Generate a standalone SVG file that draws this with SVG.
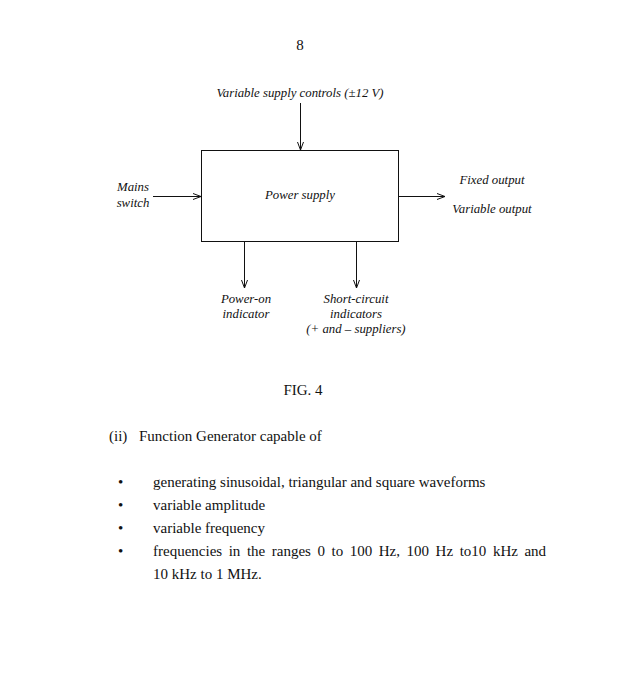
<svg xmlns="http://www.w3.org/2000/svg" width="619" height="689" viewBox="0 0 619 689">
<style>
.i{font-family:"Liberation Serif","Times New Roman",serif;font-style:italic;font-size:12.8px;fill:#111}
.r{font-family:"Liberation Serif","Times New Roman",serif;font-size:15px;fill:#111}
.ln{stroke:#111;stroke-width:1;fill:none}
</style>
<defs>
<marker id="a" markerWidth="10" markerHeight="10" refX="8" refY="4" orient="auto" markerUnits="userSpaceOnUse">
<path d="M0,1 L8,4 L0,7" fill="none" stroke="#111" stroke-width="1"/>
</marker>
</defs>
<rect width="619" height="689" fill="#fff"/>
<text class="r" x="300" y="50" text-anchor="middle" font-size="14">8</text>
<g id="power-supply">
<rect x="201.5" y="150.5" width="197" height="91" class="ln"/>
<text class="i" x="300" y="199" text-anchor="middle">Power supply</text>
</g>
<g id="variable-controls"><text class="i" x="300" y="97" text-anchor="middle">Variable supply controls (±12 V)</text></g>
<g id="mains-switch"><text class="i" x="133" y="191" text-anchor="middle">Mains</text><text class="i" x="133" y="207" text-anchor="middle">switch</text></g>
<g id="outputs"><text class="i" x="492" y="184" text-anchor="middle">Fixed output</text><text class="i" x="492" y="213" text-anchor="middle">Variable output</text></g>
<g id="power-on"><text class="i" x="246" y="303" text-anchor="middle">Power-on</text><text class="i" x="246" y="318" text-anchor="middle">indicator</text></g>
<g id="short-circuit"><text class="i" x="356" y="303" text-anchor="middle">Short-circuit</text><text class="i" x="356" y="318" text-anchor="middle">indicators</text><text class="i" x="356" y="333" text-anchor="middle">(+ and – suppliers)</text></g>
<g id="connectors">
<line x1="300.5" y1="103" x2="300.5" y2="150" class="ln" marker-end="url(#a)"/>
<line x1="153" y1="196.5" x2="201" y2="196.5" class="ln" marker-end="url(#a)"/>
<line x1="398" y1="196.5" x2="445" y2="196.5" class="ln" marker-end="url(#a)"/>
<line x1="244.5" y1="241" x2="244.5" y2="288" class="ln" marker-end="url(#a)"/>
<line x1="356.5" y1="241" x2="356.5" y2="288" class="ln" marker-end="url(#a)"/>
</g>
<text class="r" x="303" y="395" text-anchor="middle" font-size="14.4">FIG. 4</text>
<text class="r" x="109" y="441">(ii)</text>
<text class="r" x="139" y="441">Function Generator capable of</text>
<g class="r">
<text x="118" y="487">•</text><text x="153" y="487">generating sinusoidal, triangular and square waveforms</text>
<text x="118" y="510">•</text><text x="153" y="510">variable amplitude</text>
<text x="118" y="533">•</text><text x="153" y="533">variable frequency</text>
<text x="118" y="556">•</text><text x="153" y="556" word-spacing="2.8">frequencies in the ranges 0 to 100 Hz, 100 Hz to10 kHz and</text>
<text x="153" y="579">10 kHz to 1 MHz.</text>
</g>
</svg>
